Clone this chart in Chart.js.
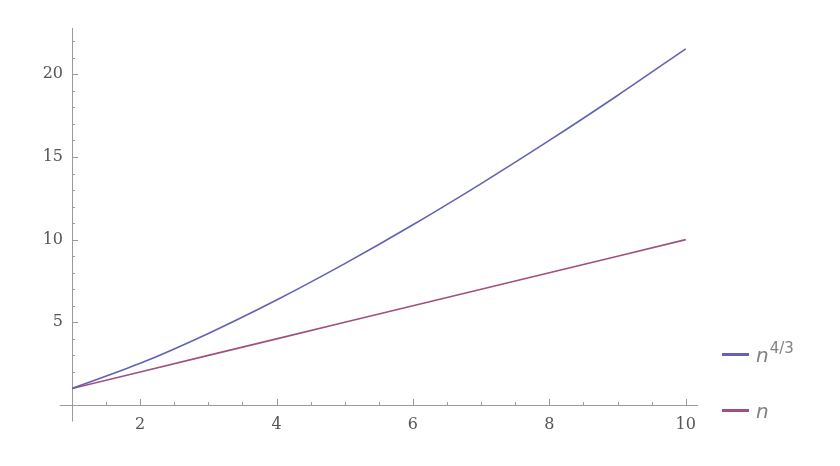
<!DOCTYPE html>
<html>
<head>
<meta charset="utf-8">
<script src="https://cdn.jsdelivr.net/npm/chart.js@4"></script>
<style>
  body { margin: 0; background: #fff; }
  #wrap { position: relative; width: 840px; height: 466px; }
  #legend { position: absolute; left: 722px; top: 0; font-family: "DejaVu Sans", sans-serif; color: #808080; }
  .item { position: absolute; left: 0; white-space: nowrap; }
  .swatch { position: absolute; left: 0; width: 27px; height: 3px; }
  .txt { position: absolute; left: 34px; font-size: 20px; font-style: italic; line-height: 20px; }
  .txt sup { font-style: normal; font-size: 15px; position: relative; vertical-align: baseline; top: -9px; margin-left: 1px; }
</style>
</head>
<body>
<div id="wrap">
  <canvas id="plot" width="840" height="466"></canvas>
  <div id="legend"></div>
</div>
<script>
// values
const nValues = [1, 2, 3, 4, 5, 6, 7, 8, 9, 10];
const powerSeries = [1, 2.52, 4.33, 6.35, 8.55, 10.9, 13.39, 16.0, 18.72, 21.54];
const linearSeries = [1, 2, 3, 4, 5, 6, 7, 8, 9, 10];
const xTickLabels = [2, 4, 6, 8, 10];
const yTickLabels = [5, 10, 15, 20];
const seriesBase = ['n', 'n'];
const seriesSup = ['4/3', ''];
const seriesColors = ['#6262b6', '#a04f7e'];

const axisColor = '#9a9a9a';

// axes drawn Mathematica style: crossing at (1, 0), ticks pointing inward
const axesPlugin = {
  id: 'mmaAxes',
  beforeDatasetsDraw(chart) {
    const { ctx } = chart;
    const xs = chart.scales.x, ys = chart.scales.y;
    const x0 = xs.getPixelForValue(1), y0 = ys.getPixelForValue(0);
    ctx.save();
    ctx.strokeStyle = axisColor;
    ctx.lineWidth = 1;
    ctx.beginPath();
    ctx.moveTo(xs.getPixelForValue(0.82), y0 + 0.5);
    ctx.lineTo(xs.getPixelForValue(10.18), y0 + 0.5);
    ctx.moveTo(Math.round(x0) + 0.5, ys.getPixelForValue(22.8));
    ctx.lineTo(Math.round(x0) + 0.5, ys.getPixelForValue(-1));
    for (let v = 1.5; v <= 10; v += 0.5) {
      const px = Math.round(xs.getPixelForValue(v)) + 0.5;
      const len = v % 2 === 0 ? 6 : 3;
      ctx.moveTo(px, y0);
      ctx.lineTo(px, y0 - len);
    }
    for (let v = 1; v <= 22; v++) {
      const py = Math.round(ys.getPixelForValue(v)) + 0.5;
      const len = v % 5 === 0 ? 6 : 3;
      ctx.moveTo(x0, py);
      ctx.lineTo(x0 + len, py);
    }
    ctx.stroke();
    ctx.restore();
  }
};

const tickFont = { family: '"DejaVu Serif", serif', size: 16 };

new Chart(document.getElementById('plot'), {
  type: 'line',
  data: {
    datasets: [
      {
        label: 'n^(4/3)',
        data: nValues.map((n, i) => ({ x: n, y: powerSeries[i] })),
        borderColor: seriesColors[0],
        borderWidth: 1.6,
        pointRadius: 0,
        cubicInterpolationMode: 'monotone'
      },
      {
        label: 'n',
        data: nValues.map((n, i) => ({ x: n, y: linearSeries[i] })),
        borderColor: seriesColors[1],
        borderWidth: 1.6,
        pointRadius: 0
      }
    ]
  },
  options: {
    responsive: false,
    animation: false,
    devicePixelRatio: 1,
    layout: { padding: { top: 28, right: 142, left: 0, bottom: 0 } },
    plugins: { legend: { display: false }, tooltip: { enabled: false } },
    scales: {
      x: {
        type: 'linear',
        min: 1,
        max: 10.18,
        grid: { display: false, drawTicks: false, tickLength: 0 },
        border: { display: false },
        afterBuildTicks: s => { s.ticks = xTickLabels.map(v => ({ value: v })); },
        afterFit: s => { s.height = 61; },
        ticks: { font: tickFont, color: '#555', padding: 10, maxRotation: 0 }
      },
      y: {
        min: 0,
        max: 22.8,
        grid: { display: false, drawTicks: false, tickLength: 0 },
        border: { display: false },
        afterBuildTicks: s => { s.ticks = yTickLabels.map(v => ({ value: v })); },
        afterFit: s => { s.width = 72; },
        ticks: { font: tickFont, color: '#555', padding: 9 }
      }
    }
  },
  plugins: [axesPlugin]
});

// legend with a real superscript
const legend = document.getElementById('legend');
const legendY = [354, 410];
seriesBase.forEach((b, i) => {
  const item = document.createElement('div');
  item.className = 'item';
  item.style.top = legendY[i] + 'px';
  item.innerHTML = '<span class="swatch" style="top:-1px;background:' + seriesColors[i] + '"></span>' +
    '<span class="txt" style="top:-9px">' + b + (seriesSup[i] ? '<sup>' + seriesSup[i] + '</sup>' : '') + '</span>';
  legend.appendChild(item);
});
</script>
</body>
</html>
